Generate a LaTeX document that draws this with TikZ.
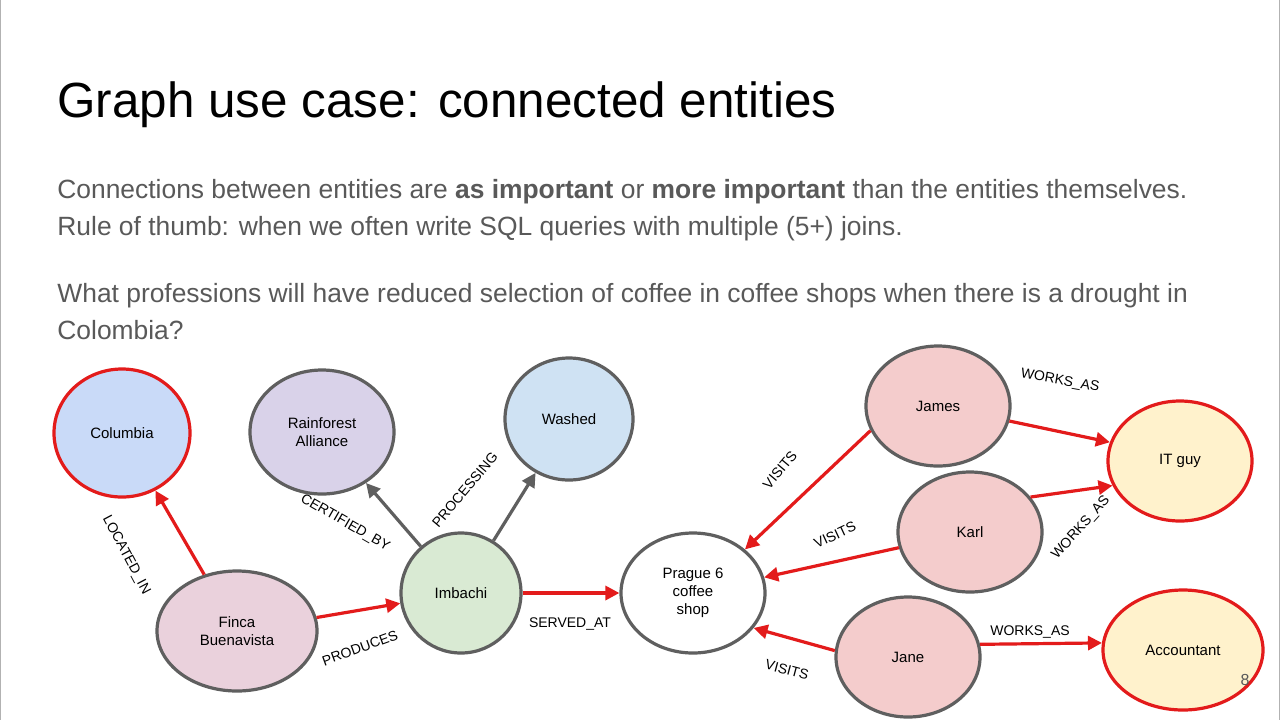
\documentclass[tikz,border=0pt]{standalone}
\usepackage{fontspec}
\setmainfont{Liberation Sans}
\usetikzlibrary{shapes.geometric,arrows.meta}
\definecolor{txt}{HTML}{595959}
\definecolor{redE}{HTML}{E31B1B}
\definecolor{grayE}{HTML}{5F5F5F}
\begin{document}
\begin{tikzpicture}[x=0.5pt,y=-0.5pt,
  ent/.style={ellipse,draw=grayE,line width=1.6pt,inner sep=0pt,align=center,font=\fontsize{7.5}{9}\selectfont},
  hot/.style={ent,draw=redE},
  rar/.style={draw=redE,line width=1.6pt,-{Triangle[length=7pt,width=7pt]}},
  gar/.style={draw=grayE,line width=1.6pt,-{Triangle[length=7pt,width=7pt]}},
  lab/.style={font=\fontsize{7}{8}\selectfont,inner sep=1pt}]
\useasboundingbox (0,0) rectangle (1280,720);
\fill[white] (0,0) rectangle (1280,720);
\draw[gray!60,line width=0.5pt] (0.5,0)--(0.5,720) (1279.5,0)--(1279.5,720);
\node[anchor=west,inner sep=0pt,font=\fontsize{24.7}{28}\selectfont] (title) at (57,105) {Graph use case: connected entities};
\node[anchor=west,inner sep=0pt,text=txt,font=\fontsize{13.2}{18.5}\selectfont,align=left] (body1) at (57,210) {Connections between entities are \textbf{as important} or \textbf{more important} than the entities themselves.\\Rule of thumb: when we often write SQL queries with multiple (5+) joins.};
\node[anchor=west,inner sep=0pt,text=txt,font=\fontsize{13.2}{18.5}\selectfont,align=left] (body2) at (57,312) {What professions will have reduced selection of coffee in coffee shops when there is a drought in\\Colombia?};

\node[hot,fill={rgb,255:red,201;green,218;blue,248},minimum width=68pt,minimum height=64pt] (col) at (122,433) {Columbia};
\node[ent,fill={rgb,255:red,217;green,210;blue,233},minimum width=72pt,minimum height=62pt] (rain) at (322,432) {Rainforest\\Alliance};
\node[ent,fill={rgb,255:red,207;green,226;blue,243},minimum width=64pt,minimum height=61pt] (wash) at (569,419) {Washed};
\node[ent,fill={rgb,255:red,234;green,209;blue,220},minimum width=80pt,minimum height=60pt] (finca) at (237,631) {Finca\\Buenavista};
\node[ent,fill={rgb,255:red,217;green,234;blue,211},minimum width=60pt,minimum height=60pt] (imb) at (461,593) {Imbachi};
\node[ent,fill=white,minimum width=72pt,minimum height=60pt] (prague) at (693,593) {Prague 6\\coffee\\shop};
\node[ent,fill={rgb,255:red,244;green,204;blue,204},minimum width=72pt,minimum height=60pt] (james) at (938,406) {James};
\node[ent,fill={rgb,255:red,244;green,204;blue,204},minimum width=72pt,minimum height=60pt] (karl) at (970,532) {Karl};
\node[ent,fill={rgb,255:red,244;green,204;blue,204},minimum width=72pt,minimum height=60pt] (jane) at (908,657) {Jane};
\node[hot,fill={rgb,255:red,255;green,242;blue,204},minimum width=72pt,minimum height=60pt] (it) at (1180,461) {IT guy};
\node[hot,fill={rgb,255:red,255;green,242;blue,204},minimum width=80pt,minimum height=60pt] (acc) at (1183,650) {Accountant};

\draw[rar] (finca) -- (col);
\draw[rar] (finca) -- (imb);
\draw[gar] (imb) -- (rain);
\draw[gar] (imb) -- (wash);
\draw[rar] (imb) -- (prague);
\draw[rar] (james.200) -- (prague.40);
\draw[rar] (karl) -- (prague);
\draw[rar] (jane.175) -- (prague.-30);
\draw[rar] (james) -- (it.165);
\draw[rar] (karl.30) -- (it.200);
\draw[rar] (jane.10) -- (acc.175);

\node[lab,rotate=-62] (l1) at (126,555) {LOCATED\_IN};
\node[lab,rotate=20] (l2) at (360,648) {PRODUCES};
\node[lab,rotate=-30] (l3) at (345,523) {CERTIFIED\_BY};
\node[lab,rotate=50] (l4) at (465,490) {PROCESSING};
\node[lab] (l5) at (570,624) {SERVED\_AT};
\node[lab,rotate=50] (l6) at (780,470) {VISITS};
\node[lab,rotate=25] (l7) at (835,535) {VISITS};
\node[lab,rotate=-15] (l8) at (787,670) {VISITS};
\node[lab,rotate=-10] (l9) at (1060,381) {WORKS\_AS};
\node[lab,rotate=48] (l10) at (1081,528) {WORKS\_AS};
\node[lab] (l11) at (1030,632) {WORKS\_AS};
\node[text=txt,font=\fontsize{8}{9}\selectfont] (pg) at (1245,680) {8};
\end{tikzpicture}
\end{document}
